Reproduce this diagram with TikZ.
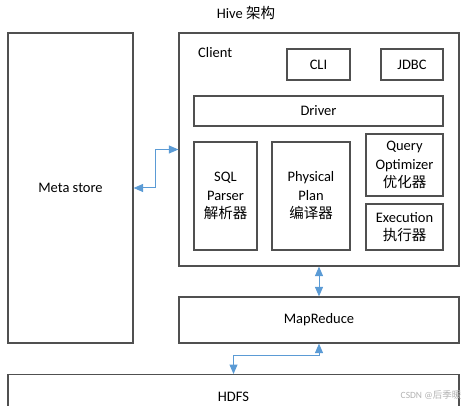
\documentclass[tikz,border=0pt]{standalone}
\usepackage{fontspec}
\setmainfont{Carlito}
\newfontfamily\cjk{Noto Sans CJK SC}
\usetikzlibrary{arrows.meta}
\definecolor{arrblue}{RGB}{91,155,213}
\definecolor{boxgray}{RGB}{80,80,80}
\begin{document}
\begin{tikzpicture}[x=1pt,y=-1pt,
  box/.style={draw=boxgray,line width=1.2pt,inner sep=0pt,align=center,
    font=\fontsize{14.5}{18.5}\selectfont},
  txt/.style={inner sep=0pt,font=\fontsize{14.5}{18.5}\selectfont},
  arr/.style={draw=arrblue,line width=1pt,
    {Triangle[length=9.5pt,width=8pt,fill=arrblue]}-{Triangle[length=9.5pt,width=8pt,fill=arrblue]}}]
\useasboundingbox (0,0) rectangle (474,406);
\node[txt] (title) at (246,13) {Hive {\cjk 架构}};
\node[box,minimum width=125,minimum height=310] (meta) at (70.5,188) {Meta store};
\node[box,minimum width=280,minimum height=233] (client) at (319,149.5) {};
\node[txt,anchor=west] (clienttxt) at (198,53) {Client};
\node[box,minimum width=63,minimum height=31] (cli) at (318.5,64.5) {CLI};
\node[box,minimum width=62,minimum height=31] (jdbc) at (412,64.5) {JDBC};
\node[box,minimum width=249,minimum height=30] (driver) at (318.5,111) {Driver};
\node[box,minimum width=63,minimum height=108] (sql) at (225.5,196) {SQL\\Parser\\{\cjk 解析器}};
\node[box,minimum width=78,minimum height=108] (plan) at (311,196) {Physical\\Plan\\{\cjk 编译器}};
\node[box,minimum width=77,minimum height=62] (opt) at (404.5,165) {Query\\Optimizer\\{\cjk 优化器}};
\node[box,minimum width=77,minimum height=46] (exec) at (404.5,227) {Execution\\{\cjk 执行器}};
\node[box,minimum width=280,minimum height=46] (mr) at (319,320) {MapReduce};
\node[box,minimum width=451,minimum height=60,anchor=north] (hdfs) at (233.5,374) {};
\node[txt] (hdfstxt) at (233.5,397) {HDFS};
\node[inner sep=0pt,text=black!30,font=\fontsize{9.5}{11}\selectfont] (wm) at (431,395) {CSDN @{\cjk 后季暖}};
\draw[arr] (meta.east) -- ++(22,0) |- (client.west);
\draw[arr] (client.south) -- (mr.north);
\draw[arr] (mr.south) -- ++(0,12) -| (hdfs.north);
\end{tikzpicture}
\end{document}
